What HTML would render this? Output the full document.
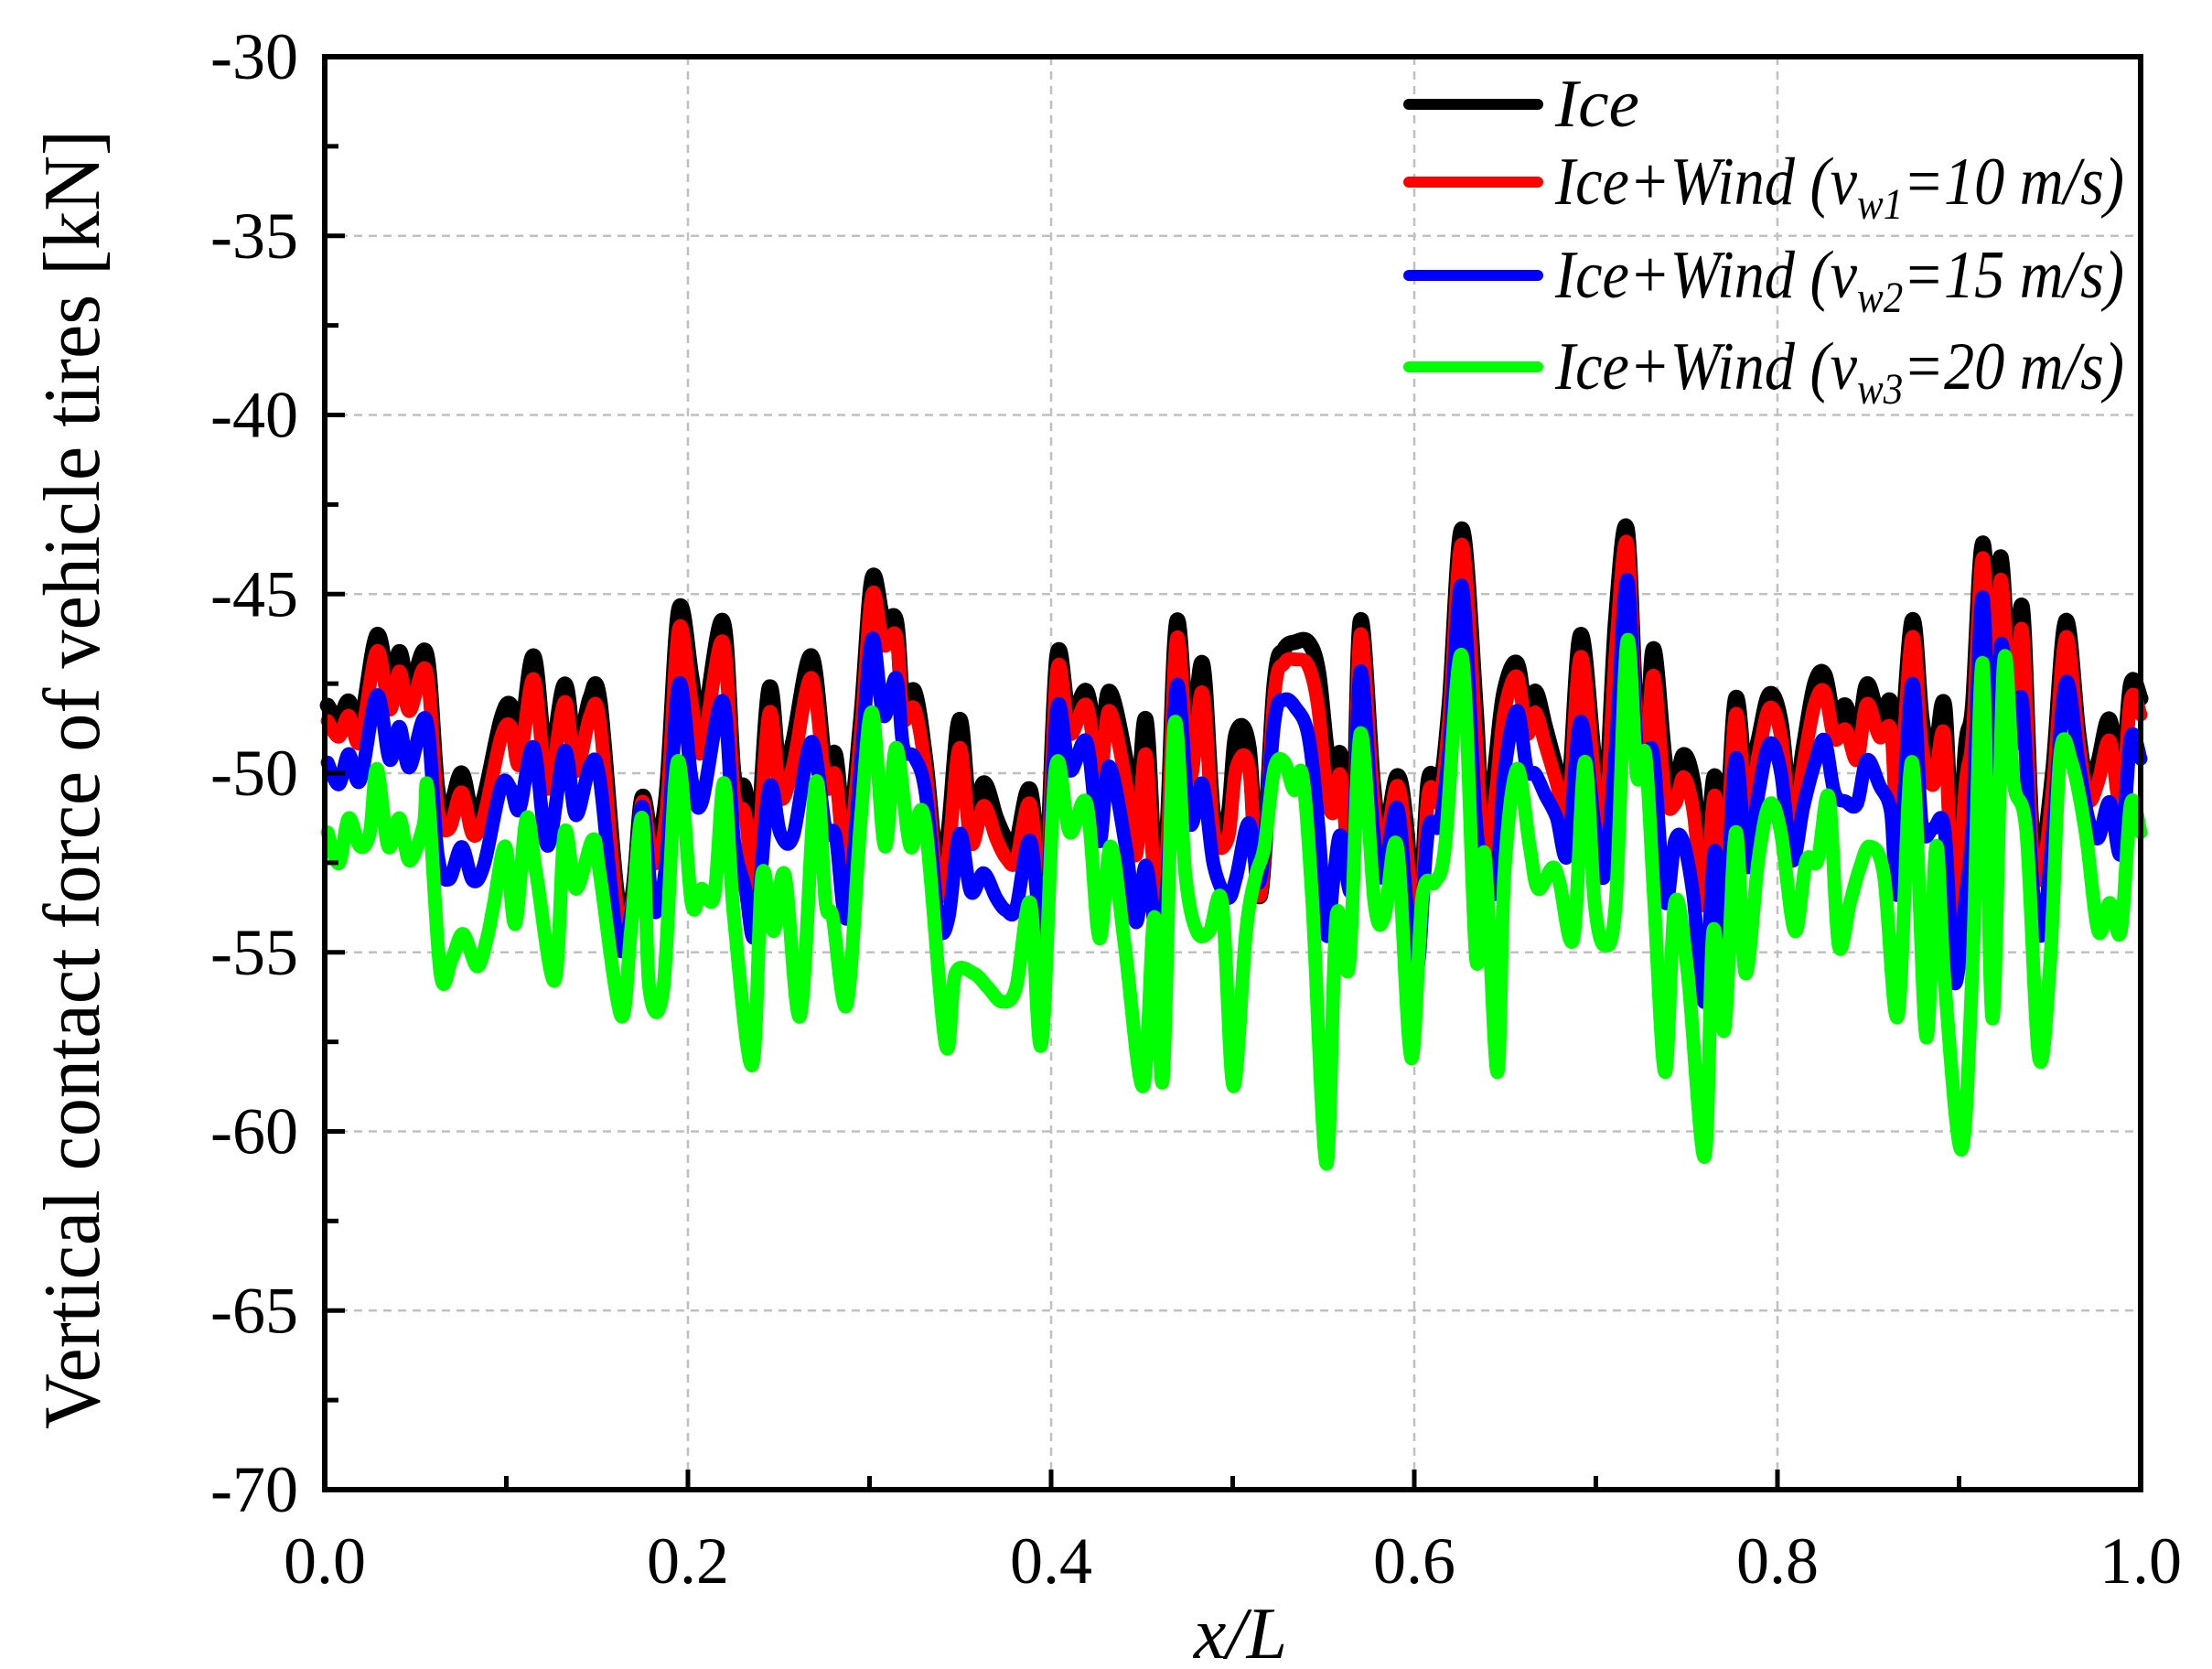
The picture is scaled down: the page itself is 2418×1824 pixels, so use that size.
<!DOCTYPE html>
<html><head><meta charset="utf-8"><style>
html,body{margin:0;padding:0;background:#fff;}
svg{display:block;}
text{font-family:"Liberation Serif",serif;fill:#000;}
</style></head><body>
<svg id="s" width="2418" height="1824" viewBox="0 0 2418 1824" xmlns="http://www.w3.org/2000/svg">
<rect width="2418" height="1824" fill="#fff"/>
<g id="grid" stroke="#c0c0c0" stroke-width="2.5" stroke-dasharray="9,7"></g>
<g id="series" fill="none" stroke-linejoin="round" stroke-linecap="round"></g>
<g id="axes"></g>
<g font-size="74" font-style="italic">
<line x1="1540" y1="114" x2="1681" y2="114" stroke="#000" stroke-width="12" stroke-linecap="round"/>
<text x="1700" y="138" textLength="92" lengthAdjust="spacingAndGlyphs">Ice</text>
<line x1="1540" y1="199" x2="1681" y2="199" stroke="#f00" stroke-width="12" stroke-linecap="round"/>
<text x="1700" y="223" textLength="622" lengthAdjust="spacingAndGlyphs">Ice+Wind (v<tspan font-size="48" dy="16">w1</tspan><tspan dy="-16">=10 m/s)</tspan></text>
<line x1="1540" y1="301" x2="1681" y2="301" stroke="#00f" stroke-width="12" stroke-linecap="round"/>
<text x="1700" y="325" textLength="622" lengthAdjust="spacingAndGlyphs">Ice+Wind (v<tspan font-size="48" dy="16">w2</tspan><tspan dy="-16">=15 m/s)</tspan></text>
<line x1="1540" y1="401" x2="1681" y2="401" stroke="#0f0" stroke-width="12" stroke-linecap="round"/>
<text x="1700" y="425" textLength="622" lengthAdjust="spacingAndGlyphs">Ice+Wind (v<tspan font-size="48" dy="16">w3</tspan><tspan dy="-16">=20 m/s)</tspan></text>
</g>
<text x="1356" y="1812" font-size="80" font-style="italic" text-anchor="middle">x/L</text>
<text transform="translate(108,852) rotate(-90)" font-size="88" text-anchor="middle" textLength="1420" lengthAdjust="spacingAndGlyphs">Vertical contact force of vehicle tires [kN]</text>
</svg>
<script>
var L=355,R=2340,T=62,B=1628,NS="http://www.w3.org/2000/svg";
function el(p,t,a,txt){var e=document.createElementNS(NS,t);for(var k in a)e.setAttribute(k,a[k]);if(txt!==undefined)e.textContent=txt;document.getElementById(p).appendChild(e);return e;}
function X(v){return L+(R-L)*v;} function Y(v){return T+(B-T)*(-30-v)/40;}
for(var i=1;i<5;i++){el('grid','line',{x1:X(i*0.2),x2:X(i*0.2),y1:T,y2:B});}
for(var v=-35;v>-70;v-=5){el('grid','line',{x1:L,x2:R,y1:Y(v),y2:Y(v)});}
for(var i=0;i<=10;i++){var x=X(i/10),len=(i%2==0)?22:15;el('axes','line',{x1:x,x2:x,y1:B,y2:B-len,stroke:'#000','stroke-width':5});
 if(i%2==0)el('axes','text',{x:x,y:1730,'font-size':72,'text-anchor':'middle'},(i/10).toFixed(1));}
for(var k=0;k<=16;k++){var v=-30-2.5*k,y=Y(v),len=(k%2==0)?22:15;el('axes','line',{x1:L,x2:L+len,y1:y,y2:y,stroke:'#000','stroke-width':5});
 if(k%2==0)el('axes','text',{x:326,y:y+24,'font-size':72,'text-anchor':'end'},String(v));}
el('axes','rect',{x:L,y:T,width:R-L,height:B-T,fill:'none',stroke:'#000','stroke-width':6});
var blk=[232,500,240,510,247,497,255,515,267,450,276,490,283,462,290,490,302,463,310,560,318,575,327,548,335,580,343,565,355,510,362,500,368,530,378,465,388,545,400,485,408,535,418,495,425,498,438,640,448,635,455,565,463,600,472,565,481,432,490,480,497,520,512,440,520,550,528,560,535,618,545,488,553,555,562,525,575,465,585,545,592,535,600,600,610,510,618,410,626,440,635,440,640,500,648,490,656,540,665,625,672,590,680,510,688,585,697,555,706,580,713,595,720,598,730,560,740,640,749,465,758,510,770,490,779,540,786,490,798,540,805,590,812,510,820,645,827,590,834,440,843,540,852,470,860,580,870,580,876,520,885,530,893,635,903,485,910,460,918,455,927,455,934,475,940,530,945,560,950,535,958,615,964,440,973,555,980,600,990,550,997,590,1004,685,1012,555,1020,560,1027,500,1036,375,1046,505,1052,615,1060,540,1066,490,1075,470,1082,510,1088,490,1095,515,1103,545,1111,570,1120,450,1130,540,1137,580,1145,440,1153,375,1160,515,1167,520,1172,460,1180,540,1187,560,1193,535,1200,555,1208,620,1215,550,1222,610,1230,495,1238,560,1246,525,1254,492,1262,512,1270,580,1278,530,1286,485,1293,478,1300,510,1308,500,1316,527,1323,485,1332,510,1340,498,1345,560,1355,440,1362,510,1370,545,1378,500,1385,640,1393,530,1398,500,1405,385,1412,480,1418,395,1426,515,1433,430,1440,590,1447,605,1455,545,1464,440,1473,520,1480,560,1487,540,1495,510,1503,560,1510,485,1517,495];
var grn=[232,590,240,612,247,580,255,600,262,590,267,545,275,600,283,580,290,610,300,585,303,560,312,690,320,680,328,662,338,685,345,665,350,640,358,600,365,655,373,580,380,620,393,695,400,590,408,630,420,595,425,620,440,720,447,660,455,580,460,700,470,700,480,540,490,640,497,630,506,635,513,555,520,650,533,755,540,620,548,660,556,620,567,720,578,555,585,640,590,650,600,712,610,580,618,505,627,600,635,530,645,600,655,580,670,740,677,690,690,690,700,700,710,710,720,700,730,640,738,740,748,545,758,590,770,570,779,665,787,600,797,670,810,770,818,650,824,765,832,515,840,620,848,660,857,660,866,640,874,770,883,660,890,620,896,600,903,545,910,540,917,560,923,550,930,640,940,825,947,650,956,685,964,520,974,640,981,650,990,600,1000,750,1008,635,1017,625,1024,600,1036,465,1046,680,1052,605,1061,760,1066,620,1075,545,1084,600,1090,630,1100,615,1105,625,1115,665,1123,540,1130,640,1137,670,1145,640,1153,455,1160,550,1166,535,1172,635,1180,760,1187,640,1196,690,1208,820,1214,660,1222,730,1230,590,1237,690,1246,610,1254,570,1262,590,1272,660,1280,610,1288,610,1296,565,1303,670,1311,640,1318,615,1325,600,1335,620,1345,720,1355,540,1365,735,1372,600,1378,695,1390,815,1398,680,1405,470,1412,722,1420,470,1427,555,1436,590,1445,750,1453,680,1460,535,1468,540,1478,590,1487,660,1495,640,1503,660,1510,570,1517,590];
function pts(a){var r=[];for(var i=0;i<a.length;i+=2)r.push([a[i],a[i+1]]);return r;}
function interp(p,x){for(var i=0;i<p.length-1;i++){if(x<=p[i+1][0]){var t=(x-p[i][0])/(p[i+1][0]-p[i][0]);return p[i][1]+t*(p[i+1][1]-p[i][1]);}}return p[p.length-1][1];}
var b=pts(blk),g=pts(grn);
function fx(d){return L+(d-230)*(R-L)/1287;} function fy(d){return T+(d-40)*(B-T)/1016;}
function path(p){var q=p.map(function(a){return [fx(a[0]),fy(a[1])];});var s='M'+q[0][0].toFixed(1)+','+q[0][1].toFixed(1);
 for(var i=0;i<q.length-1;i++){var p0=q[Math.max(0,i-1)],p1=q[i],p2=q[i+1],p3=q[Math.min(q.length-1,i+2)];
 s+='C'+(p1[0]+(p2[0]-p0[0])/6).toFixed(1)+','+(p1[1]+(p2[1]-p0[1])/6).toFixed(1)+' '+(p2[0]-(p3[0]-p1[0])/6).toFixed(1)+','+(p2[1]-(p3[1]-p1[1])/6).toFixed(1)+' '+p2[0].toFixed(1)+','+p2[1].toFixed(1);}return s;}
var red=b.map(function(a){var gv=interp(g,a[0]);return [a[0],a[1]+0.1*(gv-a[1])+2];});
var blu=b.map(function(a){var gv=interp(g,a[0]);return [a[0],a[1]+0.45*(gv-a[1])];});
el('series','path',{d:path(b),stroke:'#000','stroke-width':17});
el('series','path',{d:path(red),stroke:'#f00','stroke-width':15});
el('series','path',{d:path(blu),stroke:'#00f','stroke-width':15});
el('series','path',{d:path(g),stroke:'#0f0','stroke-width':15});
</script>
</body></html>
